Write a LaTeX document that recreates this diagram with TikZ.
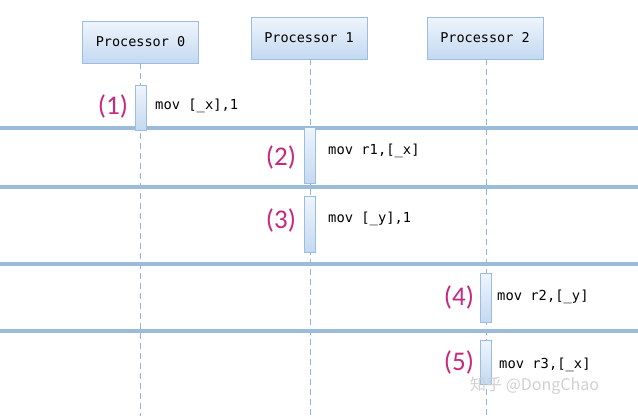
\documentclass[tikz,border=0pt]{standalone}
\usepackage{fontspec}
\setmonofont{DejaVu Sans Mono}
\newfontfamily\labfont{Carlito}
\newfontfamily\cjkfont{Noto Sans CJK SC}
\definecolor{boxedge}{HTML}{9CBDE0}
\definecolor{boxtop}{HTML}{EEF5FC}
\definecolor{boxbot}{HTML}{C4D9F0}
\definecolor{sepline}{HTML}{9BBBDB}
\definecolor{lifeline}{HTML}{8DB6E0}
\definecolor{stepmag}{HTML}{C8287E}
\tikzset{
  procbox/.style={draw=boxedge, top color=boxtop, bottom color=boxbot, minimum width=116pt, minimum height=42pt, inner sep=0pt, font=\fontsize{13.5}{14}\selectfont\ttfamily},
  actbar/.style={draw=boxedge, top color=boxtop, bottom color=boxbot, minimum width=11pt, inner sep=0pt},
  life/.style={draw=lifeline, dashed, dash pattern=on 6pt off 4pt, line width=1pt},
  sep/.style={draw=sepline, line width=3.2pt},
  steplab/.style={text=stepmag, font=\fontsize{27}{29}\selectfont\labfont, inner sep=0pt},
  instr/.style={anchor=west, inner sep=0pt, font=\fontsize{13.8}{14}\selectfont\ttfamily}
}
\begin{document}
\begin{tikzpicture}[x=1pt,y=-1pt]
\useasboundingbox (0,0) rectangle (638,416);
\fill[white] (0,0) rectangle (638,416);
% processors
\node[procbox] (p0) at (140.5,42) {Processor 0};
\node[procbox] (p1) at (309,38) {Processor 1};
\node[procbox] (p2) at (485,38) {Processor 2};
\coordinate (e0) at (140.5,416);
\coordinate (e1) at (310,416);
\coordinate (e2) at (486,416);
\draw[life] (p0.south -| e0) -- (e0);
\draw[life] (p1.south -| e1) -- (e1);
\draw[life] (p2.south -| e2) -- (e2);
% separators
\foreach \yy in {128,187,264,331} {
  \draw[sep] (0,\yy) -- (638,\yy);
}
% activation bars
\node[actbar, minimum height=45pt] (a1) at (140.5,107.5) {};
\node[actbar, minimum height=56pt] (a2) at (310,155) {};
\node[actbar, minimum height=56pt] (a3) at (310,224) {};
\node[actbar, minimum height=49pt] (a4) at (486,297.5) {};
\node[actbar, minimum height=44pt] (a5) at (486,362) {};
% step labels
\node[steplab] (l1) at (113,106) {(1)};
\node[steplab] (l2) at (281,157) {(2)};
\node[steplab] (l3) at (281,220) {(3)};
\node[steplab] (l4) at (459,297) {(4)};
\node[steplab] (l5) at (459,362) {(5)};
% instructions
\node[instr] (i1) at (155,106) {mov [\_x],1};
\node[instr] (i2) at (328,151) {mov r1,[\_x]};
\node[instr] (i3) at (328,219) {mov [\_y],1};
\node[instr] (i4) at (497,297) {mov r2,[\_y]};
\node[instr] (i5) at (499,365) {mov r3,[\_x]};
% watermark
\node[anchor=west, text=black!18, inner sep=0pt, font=\fontsize{16}{18}\selectfont\cjkfont] (wm) at (470,386) {知乎 @DongChao};
\end{tikzpicture}
\end{document}
